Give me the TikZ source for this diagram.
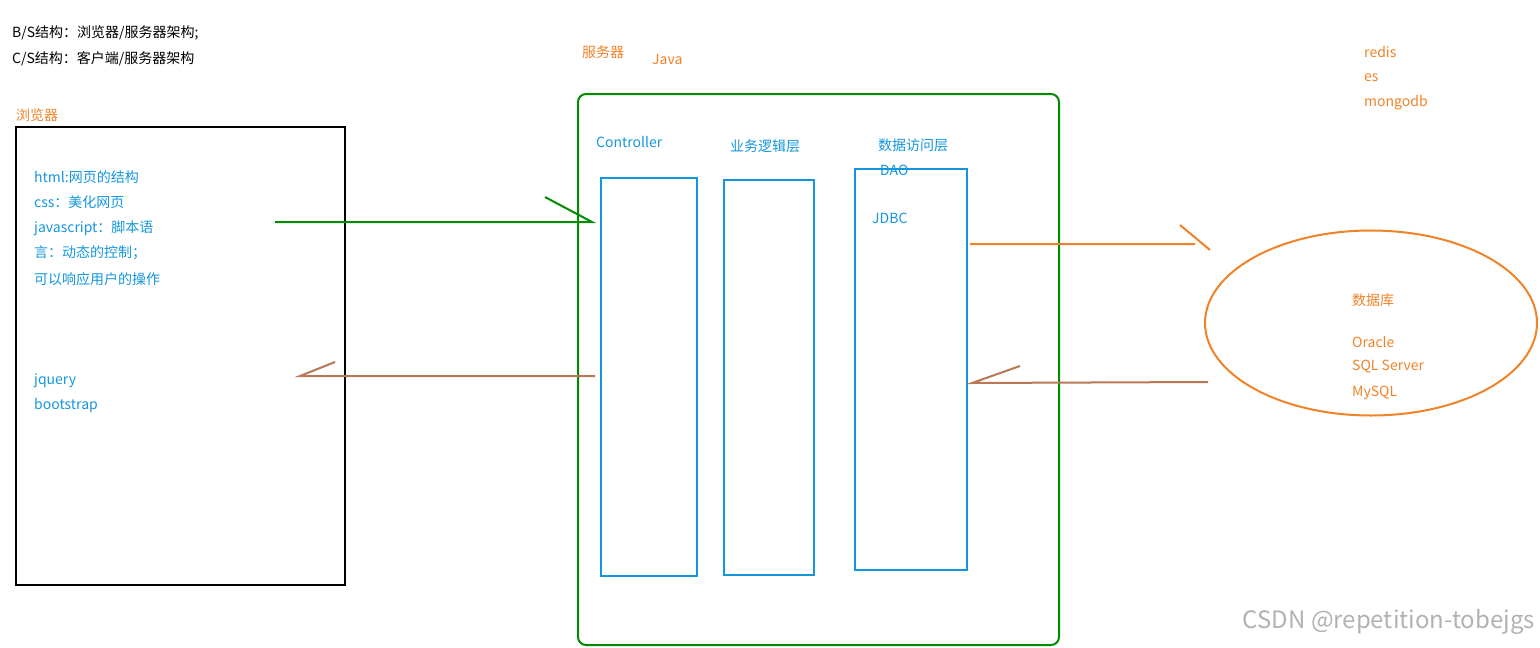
\documentclass[tikz,border=0pt]{standalone}
\usepackage{fontspec}
\usetikzlibrary{shapes.geometric}
\setmainfont{Noto Sans CJK SC}
\definecolor{brn}{RGB}{185,120,85}
\definecolor{org1}{RGB}{240,130,40}
\definecolor{blu1}{RGB}{20,150,220}
\begin{document}
\begin{tikzpicture}[x=1pt,y=-1pt,
  blu/.style={text=blu1,font=\fontsize{14}{17}\selectfont,anchor=west,inner sep=0},
  org/.style={text=org1,font=\fontsize{14}{17}\selectfont,anchor=west,inner sep=0},
  blk/.style={text=black,font=\fontsize{14}{17}\selectfont,anchor=west,inner sep=0},
  col/.style={draw=blu1,line width=2pt},
  gl/.style={draw=green!55!black,line width=2pt},
  ol/.style={draw=org1,line width=2pt},
  bl/.style={draw=brn,line width=2pt}]
\useasboundingbox (0,0) rectangle (1540,648);
\node[blk] (t1) at (12,33) {B/S结构：浏览器/服务器架构;};
\node[blk] (t2) at (12,59) {C/S结构：客户端/服务器架构};
\node[org] (lb) at (16,115) {浏览器};
\draw[line width=2pt] (16,127) rectangle (345,585);
\node[blu] (h1) at (34,177) {html:网页的结构};
\node[blu] (h2) at (34,202) {css：美化网页};
\node[blu] (h3) at (34,228) {javascript：脚本语};
\node[blu] (h4) at (34,253) {言：动态的控制；};
\node[blu] (h5) at (34,279) {可以响应用户的操作};
\node[blu] (jq) at (34,381) {jquery};
\node[blu] (bs) at (34,406) {bootstrap};
\node[org] (srv) at (582,52) {服务器};
\node[org] (java) at (652,59) {Java};
\draw[gl,rounded corners=8pt] (578,94) rectangle (1059,645);
\node[blu] (c1) at (596,142) {Controller};
\node[blu] (c2) at (730,146) {业务逻辑层};
\node[blu] (c3) at (878,145) {数据访问层};
\node[blu] (c4) at (880,170) {DAO};
\node[blu] (c5) at (872,218) {JDBC};
\draw[col] (601,178) rectangle (697,576);
\draw[col] (724,180) rectangle (814,575);
\draw[col] (855,169) rectangle (967,570);
\node[org] (r1) at (1364,52) {redis};
\node[org] (r2) at (1364,78) {es};
\node[org] (r3) at (1364,103) {mongodb};
\node[draw=org1,line width=2pt,ellipse,minimum width=332pt,minimum height=185pt,inner sep=0] (db) at (1371,323) {};
\node[org] (d0) at (1352,300) {数据库};
\node[org] (d1) at (1352,342) {Oracle};
\node[org] (d2) at (1352,367) {SQL Server};
\node[org] (d3) at (1352,393) {MySQL};
\node[text=gray!60,font=\fontsize{24}{28}\selectfont,anchor=east,inner sep=0] (wm) at (1535,622) {CSDN @repetition-tobejgs};
\coordinate (a1s) at (275,222); \coordinate (a1e) at (592,222); \coordinate (a1h) at (545,197);
\draw[gl] (a1s) -- (a1e) -- (a1h);
\coordinate (a2s) at (595,376); \coordinate (a2e) at (300,376); \coordinate (a2h) at (335,362);
\draw[bl] (a2s) -- (a2e) -- (a2h);
\coordinate (a3s) at (970,244); \coordinate (a3e) at (1210,250); \coordinate (a3h) at (1180,225);
\draw[ol] (a3s) -- (1195,244) (a3h) -- (a3e);
\coordinate (a4s) at (1208,382); \coordinate (a4e) at (972,383); \coordinate (a4h) at (1020,366);
\draw[bl] (a4s) -- (a4e) -- (a4h);
\end{tikzpicture}
\end{document}
